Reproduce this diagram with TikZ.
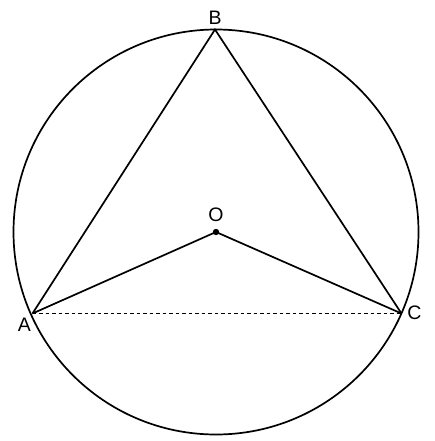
\documentclass[tikz,border=0pt]{standalone}
\usepackage{fontspec}
\setmainfont{Liberation Sans}
\begin{document}
\begin{tikzpicture}[x=1pt,y=-1pt,
  edge/.style={line width=1.7pt},
  lbl/.style={font=\fontsize{19.5}{22}\selectfont, inner sep=0pt}]
\useasboundingbox (0,0) rectangle (434,441);
\coordinate (O) at (216,232);
\coordinate (A) at (32.5,313.5);
\coordinate (B) at (215,29.5);
\coordinate (C) at (401.5,313.5);
\draw[edge] (O) circle[radius=202.5];
\draw[edge] (A) -- (B) -- (C);
\draw[edge] (A) -- (O) -- (C);
\draw[edge, dash pattern=on 3.5pt off 3pt] (A) -- (C);
\fill (O) circle[radius=3.2];
\node[lbl] (la) at (24.5,325) {A};
\node[lbl] (lb) at (215,18) {B};
\node[lbl] (lc) at (414.5,313) {C};
\node[lbl] (lo) at (216,215) {O};
\end{tikzpicture}
\end{document}
